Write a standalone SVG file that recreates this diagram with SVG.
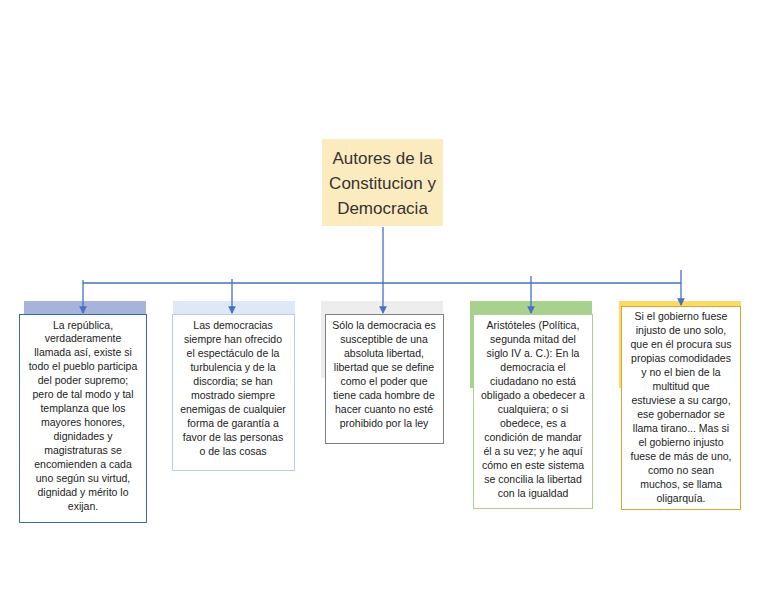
<svg xmlns="http://www.w3.org/2000/svg" width="768" height="594" viewBox="0 0 768 594">
<style>
text{font-family:"Liberation Sans",Arial,sans-serif;font-size:10.5px;fill:#222;text-anchor:middle}
.t{font-size:17px;fill:#333}
.c{stroke:#4472c4;stroke-width:1.3;fill:none}
</style>
<defs><marker id="a" viewBox="0 0 8 8" refX="7" refY="4" markerWidth="6" markerHeight="6" orient="auto"><path d="M0,0L8,4L0,8z" fill="#4472c4"/></marker></defs>
<rect width="768" height="594" fill="#fff"/>
<g id="top"><rect x="322" y="139" width="121" height="87" fill="#fdebc0"/>
<text class="t" x="382.5" y="164">Autores de la</text><text class="t" x="382.5" y="189">Constitucion y</text><text class="t" x="382.5" y="214">Democracia</text></g>
<g id="n1"><rect x="24" y="301" width="122" height="90" fill="#a6b4dc"/><rect x="19.5" y="314.5" width="127" height="208" fill="#fff" stroke="#3d68a8"/>
<text x="83" y="329">La república,</text><text x="83" y="342">verdaderamente</text><text x="83" y="356">llamada así, existe si</text><text x="83" y="370">todo el pueblo participa</text><text x="83" y="384">del poder supremo;</text><text x="83" y="398">pero de tal modo y tal</text><text x="83" y="412">templanza que los</text><text x="83" y="426">mayores honores,</text><text x="83" y="440">dignidades y</text><text x="83" y="454">magistraturas se</text><text x="83" y="468">encomienden a cada</text><text x="83" y="482">uno según su virtud,</text><text x="83" y="496">dignidad y mérito lo</text><text x="83" y="510">exijan.</text></g>
<g id="n2"><rect x="173" y="301" width="122" height="90" fill="#dfe9f6"/><rect x="172.5" y="314.5" width="122" height="156" fill="#fff" stroke="#b8cce4"/>
<text x="233" y="329">Las democracias</text><text x="233" y="343">siempre han ofrecido</text><text x="233" y="357">el espectáculo de la</text><text x="233" y="371">turbulencia y de la</text><text x="233" y="385">discordia; se han</text><text x="233" y="399">mostrado siempre</text><text x="233" y="413">enemigas de cualquier</text><text x="233" y="427">forma de garantía a</text><text x="233" y="441">favor de las personas</text><text x="233" y="455">o de las cosas</text></g>
<g id="n3"><rect x="321" y="301" width="122" height="77" fill="#ededed"/><rect x="325.5" y="314.5" width="118" height="129" fill="#fff" stroke="#7f7f7f"/>
<text x="384" y="329">Sólo la democracia es</text><text x="384" y="343">susceptible de una</text><text x="384" y="357">absoluta libertad,</text><text x="384" y="371">libertad que se define</text><text x="384" y="385">como el poder que</text><text x="384" y="399">tiene cada hombre de</text><text x="384" y="413">hacer cuanto no esté</text><text x="384" y="427">prohibido por la ley</text></g>
<g id="n4"><rect x="470" y="301" width="122" height="87" fill="#a9d18e"/><rect x="473.5" y="314.5" width="119" height="194" fill="#fff" stroke="#a9d18e"/>
<text x="533" y="329">Aristóteles (Política,</text><text x="533" y="343">segunda mitad del</text><text x="533" y="357">siglo IV a. C.): En la</text><text x="533" y="371">democracia el</text><text x="533" y="385">ciudadano no está</text><text x="533" y="399">obligado a obedecer a</text><text x="533" y="413">cualquiera; o si</text><text x="533" y="427">obedece, es a</text><text x="533" y="441">condición de mandar</text><text x="533" y="455">él a su vez; y he aquí</text><text x="533" y="469">cómo en este sistema</text><text x="533" y="483">se concilia la libertad</text><text x="533" y="497">con la igualdad</text></g>
<g id="n5"><rect x="619" y="301" width="122" height="87" fill="#ffd966"/><rect x="621.5" y="306.5" width="119" height="203" fill="#fff" stroke="#d4a82a"/>
<text x="681" y="320">Si el gobierno fuese</text><text x="681" y="334">injusto de uno solo,</text><text x="681" y="348">que en él procura sus</text><text x="681" y="362">propias comodidades</text><text x="681" y="376">y no el bien de la</text><text x="681" y="390">multitud que</text><text x="681" y="404">estuviese a su cargo,</text><text x="681" y="418">ese gobernador se</text><text x="681" y="432">llama tirano... Mas si</text><text x="681" y="446">el gobierno injusto</text><text x="681" y="460">fuese de más de uno,</text><text x="681" y="474">como no sean</text><text x="681" y="488">muchos, se llama</text><text x="681" y="502">oligarquía.</text></g>
<g id="connectors">
<path class="c" d="M383,227V283M83,283H681"/>
<path class="c" marker-end="url(#a)" d="M83,280V313"/>
<path class="c" marker-end="url(#a)" d="M232,279V313"/>
<path class="c" marker-end="url(#a)" d="M383,283V313"/>
<path class="c" marker-end="url(#a)" d="M531,276V313"/>
<path class="c" marker-end="url(#a)" d="M681,270V305"/>
</g>
</svg>
